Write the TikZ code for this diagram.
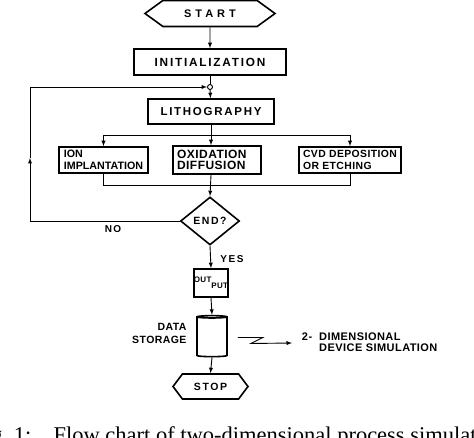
\documentclass[tikz,border=0pt]{standalone}
\usepackage{fontspec}
\setmainfont{Liberation Sans}
\newfontfamily\capfont{Liberation Serif}
\newfontfamily\spacedfont{Liberation Sans Bold}[LetterSpace=4]
\newfontfamily\widefont{Liberation Sans Bold}[LetterSpace=15]
\newfontfamily\widerfont{Liberation Sans Bold}[LetterSpace=36]
\usepackage{tikz}
\usetikzlibrary{arrows}
\usetikzlibrary{shapes.geometric}
\usetikzlibrary{shapes.symbols}
\usetikzlibrary{calc}

\tikzset{
  chartbox/.style={draw, line width=1.6pt, rectangle, inner sep=1pt},
  terminal/.style={draw, line width=1.6pt, signal, signal to=west and east, inner sep=0pt},
  flow/.style={line width=0.9pt, -latex},
  link/.style={line width=0.9pt},
}

\begin{document}
\begin{tikzpicture}[x=1pt,y=-1pt,font=\fontsize{11}{12}\selectfont]
\useasboundingbox (0,0) rectangle (474,438);
%% terminals and boxes
\node[terminal, minimum width=130pt, minimum height=26pt, signal pointer angle=72, font=\fontsize{11}{12}\widerfont] (start) at (210,13.5) {START};
\node[chartbox, minimum width=152pt, minimum height=26pt, font=\fontsize{11.8}{12}\widefont] (init) at (210,62) {INITIALIZATION};
\node[circle, draw, line width=0.9pt, inner sep=0pt, minimum size=5pt] (junction) at (210,87) {};
\node[chartbox, minimum width=126pt, minimum height=25pt, font=\fontsize{11.5}{12}\widefont] (litho) at (211,111.5) {LITHOGRAPHY};
\node[chartbox, minimum width=89pt, minimum height=26pt, inner sep=1pt, align=left, font=\fontsize{10.7}{11.5}\selectfont\bfseries] (ion) at (103.5,160) {ION\\IMPLANTATION};
\node[chartbox, text width=80pt, inner sep=4pt, minimum height=26pt, align=left, font=\fontsize{12}{11.5}\spacedfont] (oxid) at (217,160) {OXIDATION\\DIFFUSION};
\node[chartbox, minimum width=102pt, minimum height=26pt, inner sep=0pt, align=left, font=\fontsize{10.4}{11.5}\spacedfont] (cvd) at (350,160) {CVD DEPOSITION\\OR ETCHING};
\node[diamond, draw, line width=1.6pt, minimum width=59pt, minimum height=48pt, inner sep=0pt, font=\fontsize{10.5}{12}\widefont] (endq) at (210,221) {END?};
\node[chartbox, minimum width=33pt, minimum height=28pt, inner sep=0pt, font=\fontsize{8}{9}\spacedfont] (output) at (211,283) {OUT\raisebox{-6pt}{PUT}};
\node[cylinder, shape border rotate=90, draw, line width=1.6pt, minimum width=30pt, minimum height=41pt, aspect=0.35] (storage) at (212,337.5) {};
\node[terminal, minimum width=75pt, minimum height=25pt, signal pointer angle=106, font=\fontsize{10.5}{12}\widefont] (stop) at (210.5,386.5) {STOP};
%% labels
\node[font=\fontsize{10}{12}\widefont] (no) at (113,229) {NO};
\node[font=\fontsize{10}{12}\widefont] (yes) at (232,259) {YES};
\node[anchor=east, align=right, font=\fontsize{10.5}{13}\spacedfont] (datalbl) at (190,333) {DATA\\STORAGE};
\node[anchor=west, align=left, inner sep=0pt, font=\fontsize{11}{10.5}\spacedfont] (sim) at (319,342) {\llap{2-\hspace{7pt}}DIMENSIONAL\\DEVICE SIMULATION};
\node[anchor=base east, font=\fontsize{22.5}{24}\capfont] (figno) at (35,442) {Fig.~1:};
\node[anchor=base west, font=\fontsize{22.5}{24}\capfont] (caption) at (50,442) {Flow chart of two-dimensional process simulation};
%% connectors
\coordinate (split) at (210,135);
\coordinate (merge) at (210,185);
\coordinate (loopmid) at (30,158);
\draw[flow] (start) -- (init);
\draw[link] (init) -- (junction);
\draw[flow] (junction) -- (litho);
\draw[flow] (litho.south) -- (litho.south |- oxid.north);
\draw[link] (split -| ion) -- (split -| cvd);
\draw[flow] (split -| ion) -- (ion.north);
\draw[flow] (split -| cvd) -- (cvd.north);
\draw[link] (ion.south) |- (merge -| cvd) -- (cvd.south);
\draw[flow] (litho.south |- oxid.south) -- (endq.north);
\draw[flow] (endq.west) -| (loopmid);
\draw[flow] (loopmid) |- (junction.west);
\draw[flow] (endq.south) -- (output.north);
\draw[flow] (output.south) -- (storage.north);
\draw[flow] (storage.south) -- (stop.north);
\draw[flow] ($(storage.east)+(10,0)$) -- ++(25,0) -- ++(-12,6) -- ($(sim.west)+(-27,1)$);
\end{tikzpicture}
\end{document}
